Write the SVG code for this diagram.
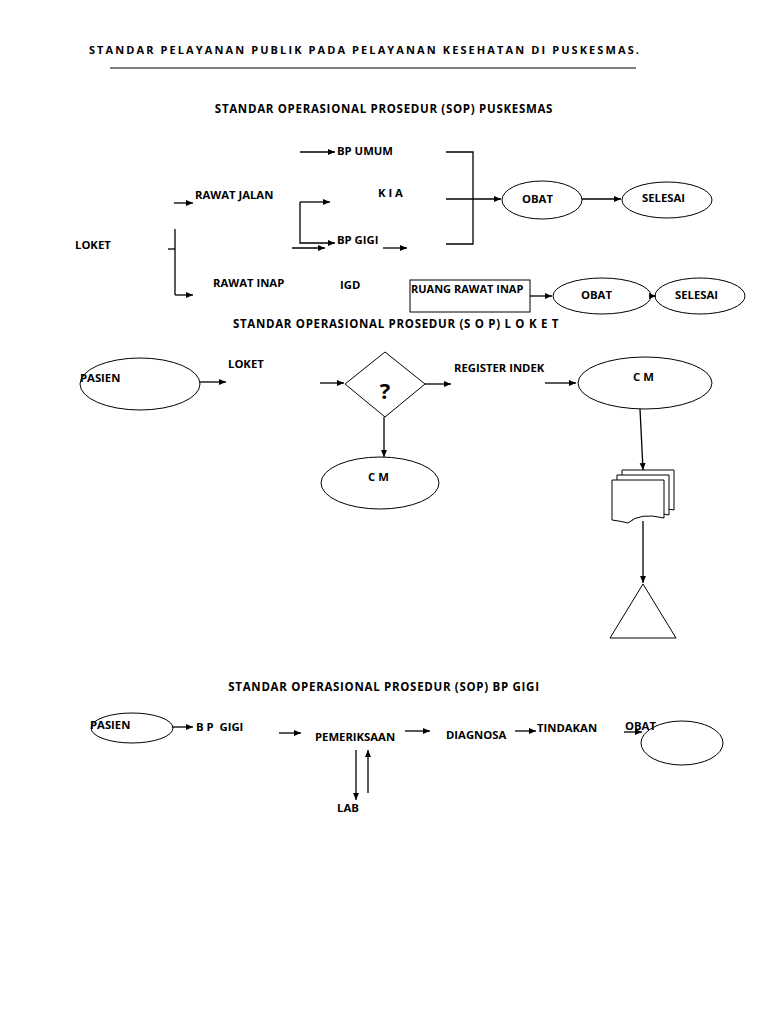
<svg xmlns="http://www.w3.org/2000/svg" width="768" height="1024" viewBox="0 0 768 1024">
<style>
text{font-family:"Open Sans","Liberation Sans",sans-serif;font-weight:bold;font-size:11.3px;fill:#000}
.t{font-size:11px;letter-spacing:2.1px}
.s{font-size:11.5px;letter-spacing:0.7px}
.sh{fill:#fff;stroke:#000;stroke-width:1}
.c line,.c path,.c polyline{stroke:#000;stroke-width:1.3;fill:none}
</style>
<defs><marker id="a" markerWidth="8" markerHeight="8" refX="7" refY="4" orient="auto" markerUnits="userSpaceOnUse"><path d="M0,1 L7,4 L0,7z" fill="#000"/></marker></defs>
<rect width="768" height="1024" fill="#fff"/>
<text class="t" x="365" y="54" text-anchor="middle">STANDAR PELAYANAN PUBLIK PADA PELAYANAN KESEHATAN DI PUSKESMAS.</text>
<line x1="110" y1="68" x2="636" y2="68" stroke="#000" stroke-width="1"/>
<text class="s" x="384" y="113" text-anchor="middle">STANDAR OPERASIONAL PROSEDUR (SOP) PUSKESMAS</text>
<text class="s" x="396" y="328" text-anchor="middle">STANDAR OPERASIONAL PROSEDUR (S O P) L O K E T</text>
<text class="s" x="384" y="691" text-anchor="middle">STANDAR OPERASIONAL PROSEDUR (SOP) BP GIGI</text>

<g id="loket1"><text x="75" y="249">LOKET</text></g>
<g id="rawatjalan"><text x="195" y="199">RAWAT JALAN</text></g>
<g id="rawatinap"><text x="213" y="287">RAWAT INAP</text></g>
<g id="bpumum"><text x="337" y="155">BP UMUM</text></g>
<g id="kia"><text x="378" y="197">K I A</text></g>
<g id="bpgigi"><text x="337" y="244">BP GIGI</text></g>
<g id="igd"><text x="340" y="289">IGD</text></g>
<g id="ruang"><rect class="sh" x="410" y="280" width="120" height="32"/><text x="411" y="293" style="font-size:11px">RUANG RAWAT INAP</text></g>
<g id="obat1"><ellipse class="sh" cx="542" cy="200" rx="40" ry="19"/><text x="522" y="203">OBAT</text></g>
<g id="selesai1"><ellipse class="sh" cx="667" cy="200" rx="45" ry="18"/><text x="642" y="202">SELESAI</text></g>
<g id="obat2"><ellipse class="sh" cx="602" cy="296" rx="49" ry="18"/><text x="581" y="299">OBAT</text></g>
<g id="selesai2"><ellipse class="sh" cx="700" cy="296" rx="45" ry="18"/><text x="675" y="299">SELESAI</text></g>

<g id="pasien1"><ellipse class="sh" cx="140" cy="384" rx="60" ry="26"/><text x="80" y="382">PASIEN</text></g>
<g id="loket2"><text x="228" y="368">LOKET</text></g>
<g id="diamond"><path class="sh" d="M385,352 L425,384 L385,417 L345,384z"/><text x="385" y="399" text-anchor="middle" style="font-size:22px">?</text></g>
<g id="register"><text x="454" y="372">REGISTER INDEK</text></g>
<g id="cm1"><ellipse class="sh" cx="645" cy="383" rx="67" ry="26"/><text x="633" y="381">C M</text></g>
<g id="cm2"><ellipse class="sh" cx="380" cy="483" rx="59" ry="26"/><text x="368" y="481">C M</text></g>
<g id="docs">
<path class="sh" d="M622,470 L674,470 L674,510 Q650,504 637,515 L622,515z"/>
<path class="sh" d="M617,475 L669,475 L669,515 Q645,509 632,520 L617,520z"/>
<path class="sh" d="M612,480 L664,480 L664,518 Q640,512 628,523 Q620,521 612,520z"/>
</g>
<g id="tri"><path class="sh" d="M643,584 L676,638 L610,638z"/></g>

<g id="pasien2"><ellipse class="sh" cx="132" cy="728" rx="41" ry="15"/><text x="90" y="729">PASIEN</text></g>
<g id="bpgigi2"><text x="196" y="731" xml:space="preserve">B P  GIGI</text></g>
<g id="periksa"><text x="315" y="741">PEMERIKSAAN</text></g>
<g id="diagnosa"><text x="446" y="739">DIAGNOSA</text></g>
<g id="tindakan"><text x="537" y="732">TINDAKAN</text></g>
<g id="obat3"><ellipse class="sh" cx="682" cy="743" rx="41" ry="22"/><text x="625" y="730">OBAT</text></g>
<g id="lab"><text x="337" y="812">LAB</text></g>

<g class="c">
<line x1="300" y1="152" x2="335" y2="152" marker-end="url(#a)"/>
<polyline points="446,152 473,152 473,244 446,244"/>
<line x1="446" y1="199" x2="501" y2="199" marker-end="url(#a)"/>
<line x1="582" y1="199" x2="621" y2="199" marker-end="url(#a)"/>
<line x1="175" y1="229" x2="175" y2="295"/>
<line x1="168" y1="249" x2="175" y2="249"/>
<line x1="174" y1="203" x2="193" y2="203" marker-end="url(#a)"/>
<line x1="175" y1="295" x2="193" y2="295" marker-end="url(#a)"/>
<polyline points="300,202 300,243 335,243" marker-end="url(#a)"/>
<line x1="300" y1="202" x2="330" y2="202" marker-end="url(#a)"/>
<line x1="292" y1="248" x2="325" y2="248" marker-end="url(#a)"/>
<line x1="383" y1="248" x2="407" y2="248" marker-end="url(#a)"/>
<line x1="530" y1="296" x2="552" y2="296" marker-end="url(#a)"/>
<line x1="651" y1="296" x2="656" y2="296" marker-end="url(#a)"/>
<line x1="200" y1="382" x2="226" y2="382" marker-end="url(#a)"/>
<line x1="320" y1="383" x2="344" y2="383" marker-end="url(#a)"/>
<line x1="425" y1="384" x2="451" y2="384" marker-end="url(#a)"/>
<line x1="545" y1="383" x2="576" y2="383" marker-end="url(#a)"/>
<line x1="384" y1="417" x2="384" y2="457" marker-end="url(#a)"/>
<line x1="640" y1="409" x2="643" y2="470" marker-end="url(#a)"/>
<line x1="643" y1="521" x2="643" y2="583" marker-end="url(#a)"/>
<line x1="172" y1="727" x2="193" y2="727" marker-end="url(#a)"/>
<line x1="279" y1="733" x2="301" y2="733" marker-end="url(#a)"/>
<line x1="405" y1="731" x2="430" y2="731" marker-end="url(#a)"/>
<line x1="515" y1="731" x2="536" y2="731" marker-end="url(#a)"/>
<line x1="624" y1="732" x2="642" y2="732" marker-end="url(#a)"/>
<line x1="356" y1="750" x2="356" y2="800" marker-end="url(#a)"/>
<line x1="368" y1="793" x2="368" y2="750" marker-end="url(#a)"/>
</g>
</svg>
